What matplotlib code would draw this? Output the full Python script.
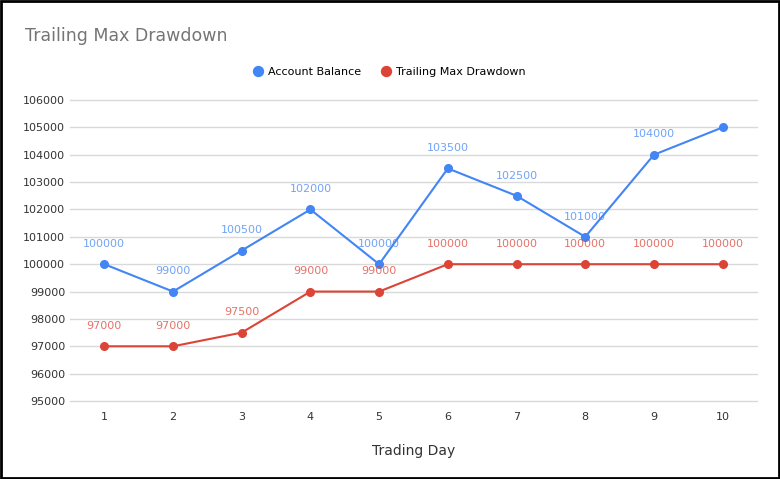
import matplotlib.pyplot as plt
from matplotlib.patches import Rectangle

# Data
days = [1, 2, 3, 4, 5, 6, 7, 8, 9, 10]
account_balance = [100000, 99000, 100500, 102000, 100000, 103500, 102500, 101000, 104000, 105000]
trailing_dd = [97000, 97000, 97500, 99000, 99000, 100000, 100000, 100000, 100000, 100000]
yticks = list(range(95000, 106001, 1000))

blue = '#4285F4'
red = '#DB4437'

fig = plt.figure(figsize=(7.8, 4.79), dpi=100)
ax = fig.add_axes([0.0897, 0.1628, 0.8808, 0.6284])

ax.plot(days, account_balance, color=blue, lw=1.5, marker='o', ms=5.5, label='Account Balance', zorder=3)
ax.plot(days, trailing_dd, color=red, lw=1.5, marker='o', ms=5.5, label='Trailing Max Drawdown', zorder=3)

# data labels (the last balance label is hidden in the original chart)
for x, y in zip(days[:-1], account_balance[:-1]):
    ax.annotate(str(y), (x, y), xytext=(0, 11), textcoords='offset points',
                ha='center', va='bottom', fontsize=8, color=blue, alpha=0.75)
for x, y in zip(days, trailing_dd):
    ax.annotate(str(y), (x, y), xytext=(0, 11), textcoords='offset points',
                ha='center', va='bottom', fontsize=8, color=red, alpha=0.75)

ax.set_xlim(0.5, 10.5)
ax.set_ylim(95000, 106000)
ax.set_xticks(days)
ax.set_yticks(yticks)
ax.tick_params(length=0, labelsize=8, colors='#333333')
ax.tick_params(axis='x', pad=8)
ax.grid(axis='y', color='#d9d9d9', lw=1)
for gl in ax.get_ygridlines():
    gl.set_clip_on(False)
ax.set_axisbelow(True)
for s in ax.spines.values():
    s.set_visible(False)

ax.set_xlabel('Trading Day', fontsize=10, color='#333333', labelpad=16)

fig.text(25 / 780, 1 - 36 / 479, 'Trailing Max Drawdown', fontsize=12.5, color='#757575', va='center')
ax.legend(loc='center', bbox_to_anchor=(0.465, 1.093), ncol=2, frameon=False,
          fontsize=8, handlelength=0.8, handletextpad=0.5, columnspacing=1.8,
          markerscale=1.3)
# draw only markers in legend
for h in ax.get_legend().legend_handles:
    h.set_linestyle('')

fig.patches.append(Rectangle((0.0013, 0.002), 0.9974, 0.996, transform=fig.transFigure,
                             fill=False, edgecolor='black', lw=2))

fig.savefig('out.png', dpi=100, facecolor='white')
